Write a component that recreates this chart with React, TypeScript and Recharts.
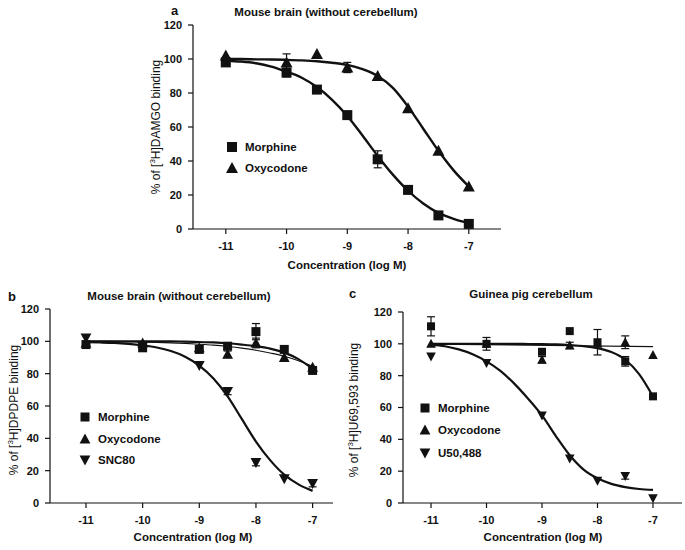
import { ComposedChart, Line, Scatter, XAxis, YAxis, ErrorBar } from "recharts";

const FONT = '"Liberation Sans", Arial, Helvetica, sans-serif';

// shared axis ticks
const xTicks = [-11, -10, -9, -8, -7];
const yTicks = [0, 20, 40, 60, 80, 100, 120];

// x grid used for the fitted curves (log M)
const fitX = [-11, -10.75, -10.5, -10.25, -10, -9.75, -9.5, -9.25, -9, -8.75, -8.5, -8.25, -8, -7.75, -7.5, -7.25, -7];

// panel a: [3H]DAMGO
const concA = [-11, -10, -9.5, -9, -8.5, -8, -7.5, -7];
const aMorphine = [98, 92, 82, 67, 41, 23, 8, 3];
const aMorphineErr = [0, 2.5, 0, 0, 5, 0, 0, 0];
const aOxycodone = [102, 98, 103, 95, 90, 71, 46, 25];
const aOxycodoneErr = [0, 5, 0, 3, 0, 0, 0, 0];
const aMorphineFit = [99, 98.5, 97.5, 95.5, 92.5, 89, 83.5, 76, 66.5, 55, 43, 32, 22.5, 15, 9.5, 6, 3.5];
const aOxycodoneFit = [100, 100, 99.8, 99.7, 99.5, 99.2, 98.7, 97.8, 96.5, 94, 90, 83, 72, 59, 46, 34.5, 25];

// panel b: [3H]DPDPE
const concB = [-11, -10, -9, -8.5, -8, -7.5, -7];
const bMorphine = [98, 96, 95, 97, 106, 95, 82];
const bMorphineErr = [2, 0, 2, 2, 5, 0, 0];
const bOxycodone = [99, 99, 96, 92, 99, 90, 84];
const bOxycodoneErr = [0, 0, 0, 2, 3, 0, 0];
const bSnc80 = [102, 97, 85, 69, 25, 15, 12];
const bSnc80Err = [0, 0, 0, 2, 2, 0, 2];
const bMorphineFit = [100, 100, 100, 100, 100, 100, 100, 99.8, 99.6, 99.3, 98.8, 98, 97, 95.5, 93, 89, 83];
const bOxycodoneFit = [100, 100, 99.9, 99.8, 99.6, 99.4, 99.1, 98.7, 98.2, 97.6, 96.8, 95.8, 94.5, 92.8, 90.8, 88, 84.5];
const bSnc80Fit = [99.5, 99.3, 99, 98.4, 97.5, 96.2, 94, 90.5, 85, 77, 66, 52, 38, 26.5, 17.5, 11.5, 7.5];

// panel c: [3H]U69,593
const concC = [-11, -10, -9, -8.5, -8, -7.5, -7];
const cMorphine = [111, 100, 95, 108, 101, 89, 67];
const cMorphineErr = [6, 4, 0, 0, 8, 3, 0];
const cOxycodone = [100, 100, 90, 99, 100, 101, 93];
const cOxycodoneErr = [0, 0, 2, 2, 0, 4, 0];
const cU50 = [92, 88, 55, 28, 14, 17, 3];
const cU50Err = [0, 0, 0, 0, 0, 2, 0];
const cMorphineFit = [100, 100, 100, 100, 100, 100, 100, 99.9, 99.8, 99.6, 99.2, 98.6, 97.3, 94.8, 90, 81, 67];
const cOxycodoneFitX = [-11, -7];
const cOxycodoneFit = [99.8, 98.3];
const cU50Fit = [99.5, 98.5, 96.5, 93.5, 89, 83, 75, 65.5, 55, 42, 30, 21, 15.5, 12, 10, 8.8, 8.2];

const points = (xs: number[], ys: number[], errs: number[]) =>
  xs.map((x, i) => ({ x, y: ys[i], err: errs[i] }));
const curve = (xs: number[], ys: number[]) => xs.map((x, i) => ({ x, y: ys[i] }));

type Kind = "square" | "up" | "down";

function Marker({ cx, cy, kind, size }: { cx: number; cy: number; kind: Kind; size: number }) {
  if (cx == null || cy == null) return null;
  const h = size / 2;
  if (kind === "square") {
    return <rect x={cx - h} y={cy - h} width={size} height={size} fill="#111" />;
  }
  const w = size * 0.6;
  if (kind === "up") {
    return <polygon points={`${cx},${cy - h - 1} ${cx + w},${cy + h} ${cx - w},${cy + h}`} fill="#111" />;
  }
  return <polygon points={`${cx},${cy + h + 1} ${cx + w},${cy - h} ${cx - w},${cy - h}`} fill="#111" />;
}

const shape = (kind: Kind, size: number) => (p: any) => <Marker cx={p.cx} cy={p.cy} kind={kind} size={size} />;

const tickStyle = { fill: "#111", fontSize: 11, fontWeight: 700, fontFamily: FONT };

interface Series {
  pts: { x: number; y: number; err: number }[];
  kind: Kind;
}
interface Fit {
  data: { x: number; y: number }[];
  width: number;
}

function Panel({ left, top, width, height, margin, yWidth, domain, fits, series, size }: {
  left: number; top: number; width: number; height: number;
  margin: { top: number; right: number; bottom: number; left: number };
  yWidth: number; domain: [number, number]; fits: Fit[]; series: Series[]; size: number;
}) {
  return (
    <div style={{ position: "absolute", left, top }}>
      <ComposedChart width={width} height={height} margin={margin}>
        <XAxis
          dataKey="x"
          type="number"
          domain={domain}
          ticks={xTicks}
          allowDataOverflow
          height={30}
          axisLine={{ stroke: "#111", strokeWidth: 1.2 }}
          tickLine={{ stroke: "#111", strokeWidth: 1.2 }}
          tickSize={5}
          tickMargin={8}
          tick={tickStyle}
        />
        <YAxis
          type="number"
          domain={[0, 120]}
          ticks={yTicks}
          width={yWidth}
          axisLine={{ stroke: "#111", strokeWidth: 1.2 }}
          tickLine={{ stroke: "#111", strokeWidth: 1.2 }}
          tickSize={5}
          tickMargin={6}
          tick={tickStyle}
        />
        {fits.map((f, i) => (
          <Line
            key={"f" + i}
            data={f.data}
            dataKey="y"
            type="monotone"
            dot={false}
            stroke="#111"
            strokeWidth={f.width}
            isAnimationActive={false}
          />
        ))}
        {series.map((s, i) => (
          <Scatter key={"s" + i} data={s.pts} dataKey="y" shape={shape(s.kind, size)} isAnimationActive={false}>
            <ErrorBar dataKey="err" direction="y" width={4} stroke="#111" strokeWidth={1.2} />
          </Scatter>
        ))}
      </ComposedChart>
    </div>
  );
}

function YLabel({ x, y, pre, post }: { x: number; y: number; pre: string; post: string }) {
  return (
    <text x={x} y={y} transform={`rotate(-90 ${x} ${y})`} textAnchor="middle" dominantBaseline="central" fontSize={12} fill="#111">
      {pre}
      <tspan fontSize={8} dy={-4}>3</tspan>
      <tspan dy={4}>{post}</tspan>
    </text>
  );
}

function LegendItem({ x, y, kind, label, size }: { x: number; y: number; kind: Kind; label: string; size: number }) {
  return (
    <g>
      <Marker cx={x} cy={y} kind={kind} size={size} />
      <text x={x + 13} y={y + 4} fontSize={11.5} fontWeight={700} fill="#111">{label}</text>
    </g>
  );
}

export default function App() {
  return (
    <div style={{ position: "absolute", left: 0, top: 0, width: 685, height: 550, background: "#fff", fontFamily: FONT }}>
      <Panel
        left={120}
        top={0}
        width={400}
        height={280}
        margin={{ top: 25, right: 19, bottom: 21, left: 0 }}
        yWidth={73}
        domain={[-11.54, -6.47]}
        size={10}
        fits={[
          { data: curve(fitX, aMorphineFit), width: 2.4 },
          { data: curve(fitX, aOxycodoneFit), width: 2.4 },
        ]}
        series={[
          { pts: points(concA, aMorphine, aMorphineErr), kind: "square" },
          { pts: points(concA, aOxycodone, aOxycodoneErr), kind: "up" },
        ]}
      />
      <Panel
        left={0}
        top={280}
        width={345}
        height={270}
        margin={{ top: 29, right: 12, bottom: 17, left: 0 }}
        yWidth={50}
        domain={[-11.635, -6.64]}
        size={9}
        fits={[
          { data: curve(fitX, bMorphineFit), width: 2.2 },
          { data: curve(fitX, bOxycodoneFit), width: 1.2 },
          { data: curve(fitX, bSnc80Fit), width: 2.2 },
        ]}
        series={[
          { pts: points(concB, bMorphine, bMorphineErr), kind: "square" },
          { pts: points(concB, bOxycodone, bOxycodoneErr), kind: "up" },
          { pts: points(concB, bSnc80, bSnc80Err), kind: "down" },
        ]}
      />
      <Panel
        left={345}
        top={280}
        width={340}
        height={270}
        margin={{ top: 32, right: 3, bottom: 17, left: 0 }}
        yWidth={58}
        domain={[-11.505, -6.477]}
        size={8}
        fits={[
          { data: curve(fitX, cMorphineFit), width: 2.2 },
          { data: curve(cOxycodoneFitX, cOxycodoneFit), width: 1.2 },
          { data: curve(fitX, cU50Fit), width: 2.2 },
        ]}
        series={[
          { pts: points(concC, cMorphine, cMorphineErr), kind: "square" },
          { pts: points(concC, cOxycodone, cOxycodoneErr), kind: "up" },
          { pts: points(concC, cU50, cU50Err), kind: "down" },
        ]}
      />
      <svg width={685} height={550} style={{ position: "absolute", left: 0, top: 0, pointerEvents: "none" }} fontFamily={FONT}>
        {/* panel a */}
        <text x={171} y={15} fontSize={13} fontWeight={700} fill="#111">a</text>
        <text x={326} y={16} textAnchor="middle" fontSize={11.5} fontWeight={700} fill="#111">Mouse brain (without cerebellum)</text>
        <YLabel x={156} y={127} pre="% of [" post="H]DAMGO binding" />
        <text x={347} y={269} textAnchor="middle" fontSize={11.5} fontWeight={700} fill="#111">Concentration (log M)</text>
        <LegendItem x={232} y={147} kind="square" label="Morphine" size={10} />
        <LegendItem x={232} y={168} kind="up" label="Oxycodone" size={10} />

        {/* panel b */}
        <text x={8} y={301} fontSize={13} fontWeight={700} fill="#111">b</text>
        <text x={179} y={300} textAnchor="middle" fontSize={11.5} fontWeight={700} fill="#111">Mouse brain (without cerebellum)</text>
        <YLabel x={14} y={410} pre="% of [" post="H]DPDPE binding" />
        <text x={193} y={541} textAnchor="middle" fontSize={11.5} fontWeight={700} fill="#111">Concentration (log M)</text>
        <LegendItem x={85} y={417} kind="square" label="Morphine" size={9} />
        <LegendItem x={85} y={439} kind="up" label="Oxycodone" size={9} />
        <LegendItem x={85} y={460} kind="down" label="SNC80" size={9} />

        {/* panel c */}
        <text x={349} y={298} fontSize={13} fontWeight={700} fill="#111">c</text>
        <text x={531} y={298} textAnchor="middle" fontSize={11.5} fontWeight={700} fill="#111">Guinea pig cerebellum</text>
        <YLabel x={354} y={410} pre="% of [" post="H]U69,593 binding" />
        <text x={543} y={541} textAnchor="middle" fontSize={11.5} fontWeight={700} fill="#111">Concentration (log M)</text>
        <LegendItem x={425} y={408} kind="square" label="Morphine" size={9} />
        <LegendItem x={425} y={430} kind="up" label="Oxycodone" size={9} />
        <LegendItem x={425} y={453} kind="down" label="U50,488" size={9} />
      </svg>
    </div>
  );
}
